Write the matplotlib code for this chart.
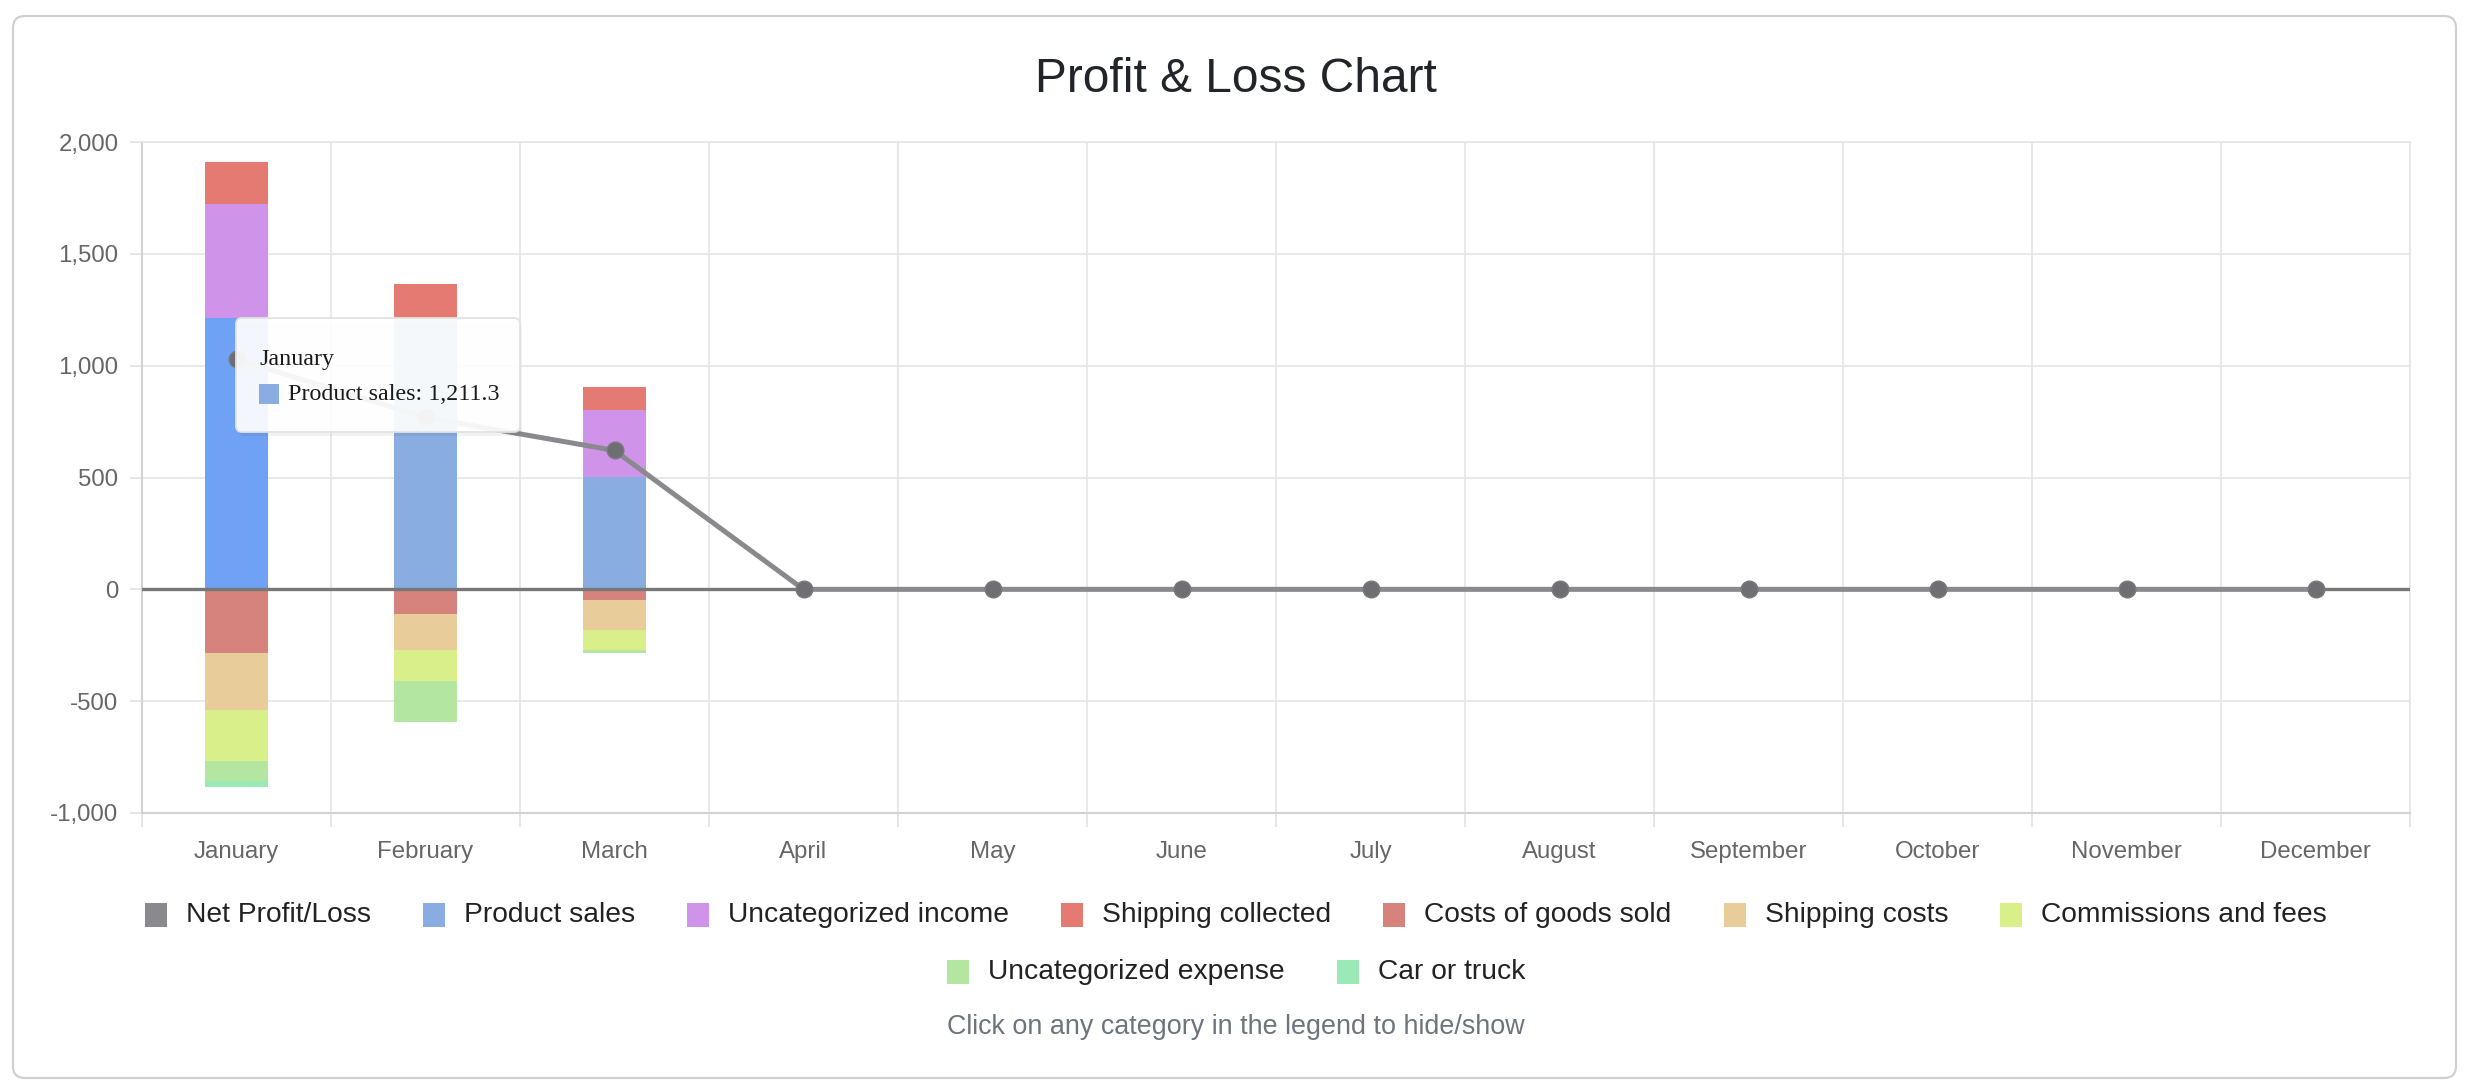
import matplotlib
matplotlib.use("Agg")
import matplotlib.pyplot as plt
from matplotlib.patches import Rectangle, FancyBboxPatch
from matplotlib.ticker import FuncFormatter, FixedLocator
import numpy as np

# datos
months = ["January", "February", "March", "April", "May", "June", "July",
          "August", "September", "October", "November", "December"]

product_sales = [1211.3, 1205, 504, 0, 0, 0, 0, 0, 0, 0, 0, 0]
uncategorized_income = [510, 8, 299, 0, 0, 0, 0, 0, 0, 0, 0, 0]
shipping_collected = [191, 150, 103, 0, 0, 0, 0, 0, 0, 0, 0, 0]
costs_of_goods_sold = [-285, -112, -48, 0, 0, 0, 0, 0, 0, 0, 0, 0]
shipping_costs = [-255, -159, -135, 0, 0, 0, 0, 0, 0, 0, 0, 0]
commissions_and_fees = [-227, -139, -88, 0, 0, 0, 0, 0, 0, 0, 0, 0]
uncategorized_expense = [-90, -184, -14, 0, 0, 0, 0, 0, 0, 0, 0, 0]
car_or_truck = [-27, 0, 0, 0, 0, 0, 0, 0, 0, 0, 0, 0]
net_profit = [1028, 769, 621, 0, 0, 0, 0, 0, 0, 0, 0, 0]

y_ticks = [-1000, -500, 0, 500, 1000, 1500, 2000]

W, H = 2472, 1090
fig = plt.figure(figsize=(W / 100, H / 100), dpi=100)
fig.patch.set_facecolor("white")

def fy(py):
    return 1 - py / H

ax = fig.add_axes([142 / W, fy(813), (2410 - 142) / W, (813 - 142) / H])

x = np.arange(len(months))
bar_w = 0.33

positivos = [
    ("Product sales", product_sales, "#89ade0"),
    ("Uncategorized income", uncategorized_income, "#cf94e9"),
    ("Shipping collected", shipping_collected, "#e57a72"),
]
negativos = [
    ("Costs of goods sold", costs_of_goods_sold, "#d6827d"),
    ("Shipping costs", shipping_costs, "#e8cc99"),
    ("Commissions and fees", commissions_and_fees, "#d9f08a"),
    ("Uncategorized expense", uncategorized_expense, "#b3e6a1"),
    ("Car or truck", car_or_truck, "#9ce9b8"),
]

base = np.zeros(len(months))
for nombre, vals, color in positivos:
    vals = np.array(vals, dtype=float)
    colores = [color] * len(months)
    if nombre == "Product sales":
        colores[0] = "#6fa2f5"  # barra resaltada por el tooltip
    ax.bar(x, vals, bar_w, bottom=base, color=colores, zorder=2, linewidth=0)
    base += vals

base = np.zeros(len(months))
for nombre, vals, color in negativos:
    vals = np.array(vals, dtype=float)
    ax.bar(x, vals, bar_w, bottom=base, color=color, zorder=2, linewidth=0)
    base += vals

ax.axhline(0, color="#777777", lw=2.4, zorder=3)
ax.plot(x, net_profit, color="#8a8a8e", lw=3.6, zorder=4,
        marker="o", ms=12, markerfacecolor="#6e6e73", markeredgecolor="#7a7a7e")

ax.set_xlim(-0.5, 11.5)
ax.set_ylim(-1000, 2000)

ax.yaxis.set_major_locator(FixedLocator(y_ticks))
ax.yaxis.set_major_formatter(FuncFormatter(lambda v, p: f"{v:,.0f}"))
ax.set_xticks(x)
ax.set_xticklabels(months)
ax.xaxis.set_minor_locator(FixedLocator(np.arange(-0.5, 12, 1)))

ax.tick_params(axis="x", which="major", length=0, pad=20, labelsize=17.3, labelcolor="#666666")
ax.tick_params(axis="x", which="minor", length=10, width=1.2, color="#e2e2e2")
ax.tick_params(axis="y", length=9, width=1.2, color="#e2e2e2", pad=8,
               labelsize=17.3, labelcolor="#666666")

ax.grid(True, which="minor", axis="x", color="#e5e5e5", lw=1.2, zorder=0)
ax.grid(True, which="major", axis="y", color="#e5e5e5", lw=1.2, zorder=0)
ax.set_axisbelow(True)

for lado in ["top", "right"]:
    ax.spines[lado].set_color("#e5e5e5")
    ax.spines[lado].set_linewidth(1.2)
for lado in ["left", "bottom"]:
    ax.spines[lado].set_color("#d2d2d2")
    ax.spines[lado].set_linewidth(1.5)

for lab in ax.get_xticklabels() + ax.get_yticklabels():
    lab.set_fontfamily("Liberation Sans")

# titulo
fig.text(0.5, fy(79), "Profit & Loss Chart", ha="center", va="center",
         fontsize=34.5, color="#212529", family="Liberation Sans")

# borde de la tarjeta
card = FancyBboxPatch((13 / 100, (H - 1078) / 100), 2443 / 100, 1062 / 100,
                      boxstyle="round,pad=0,rounding_size=0.12",
                      transform=fig.dpi_scale_trans, facecolor="none",
                      edgecolor="#d0d0d0", lw=1.6)
fig.add_artist(card)

# leyenda manual en dos filas centradas
renderer = fig.canvas.get_renderer()
legend_items = [("Net Profit/Loss", "#8a8a8e")] + [(n, c) for n, _, c in positivos] + \
               [(n, c) for n, _, c in negativos]
filas = [legend_items[:7], legend_items[7:]]
filas_y = [915, 972]
box_w, box_h, gap, item_gap = 22, 24, 19, 52

for items, py in zip(filas, filas_y):
    textos = []
    total = 0
    for nombre, color in items:
        t = fig.text(0, fy(py), nombre, fontsize=20.3, va="center", ha="left",
                     color="#222222", family="Liberation Sans")
        wt = t.get_window_extent(renderer).width
        textos.append((t, wt, color))
        total += box_w + gap + wt
    total += item_gap * (len(items) - 1)
    px = (W - total) / 2
    for t, wt, color in textos:
        fig.add_artist(Rectangle((px / W, fy(py + box_h / 2)), box_w / W, box_h / H,
                                 transform=fig.transFigure, facecolor=color, edgecolor="none"))
        t.set_x((px + box_w + gap) / W)
        px += box_w + gap + wt + item_gap

fig.text(0.5, fy(1027), "Click on any category in the legend to hide/show",
         ha="center", va="center", fontsize=19.4, color="#6c757d", family="Liberation Sans")

# tooltip
sombra = FancyBboxPatch((2.38, (H - 436) / 100), 2.84, 1.14,
                        boxstyle="round,pad=0,rounding_size=0.06",
                        transform=fig.dpi_scale_trans, facecolor="#000000",
                        edgecolor="none", alpha=0.05, zorder=9)
fig.add_artist(sombra)
tip = FancyBboxPatch((2.36, (H - 432) / 100), 2.84, 1.14,
                     boxstyle="round,pad=0,rounding_size=0.06",
                     transform=fig.dpi_scale_trans, facecolor="white",
                     edgecolor="#e2e2e2", lw=1.4, alpha=0.93, zorder=10)
fig.add_artist(tip)
fig.text(259 / W, fy(359), "January", ha="left", va="center", fontsize=17.3,
         color="#1a1a1a", family="Liberation Serif", zorder=11)
fig.add_artist(Rectangle((259 / W, fy(404)), 20 / W, 20 / H, transform=fig.transFigure,
                         facecolor="#89ade0", edgecolor="none", zorder=11))
fig.text(288 / W, fy(395), "Product sales: 1,211.3", ha="left", va="center",
         fontsize=17.3, color="#1a1a1a", family="Liberation Serif", zorder=11)

fig.savefig("out.png", dpi=100, facecolor="white")
